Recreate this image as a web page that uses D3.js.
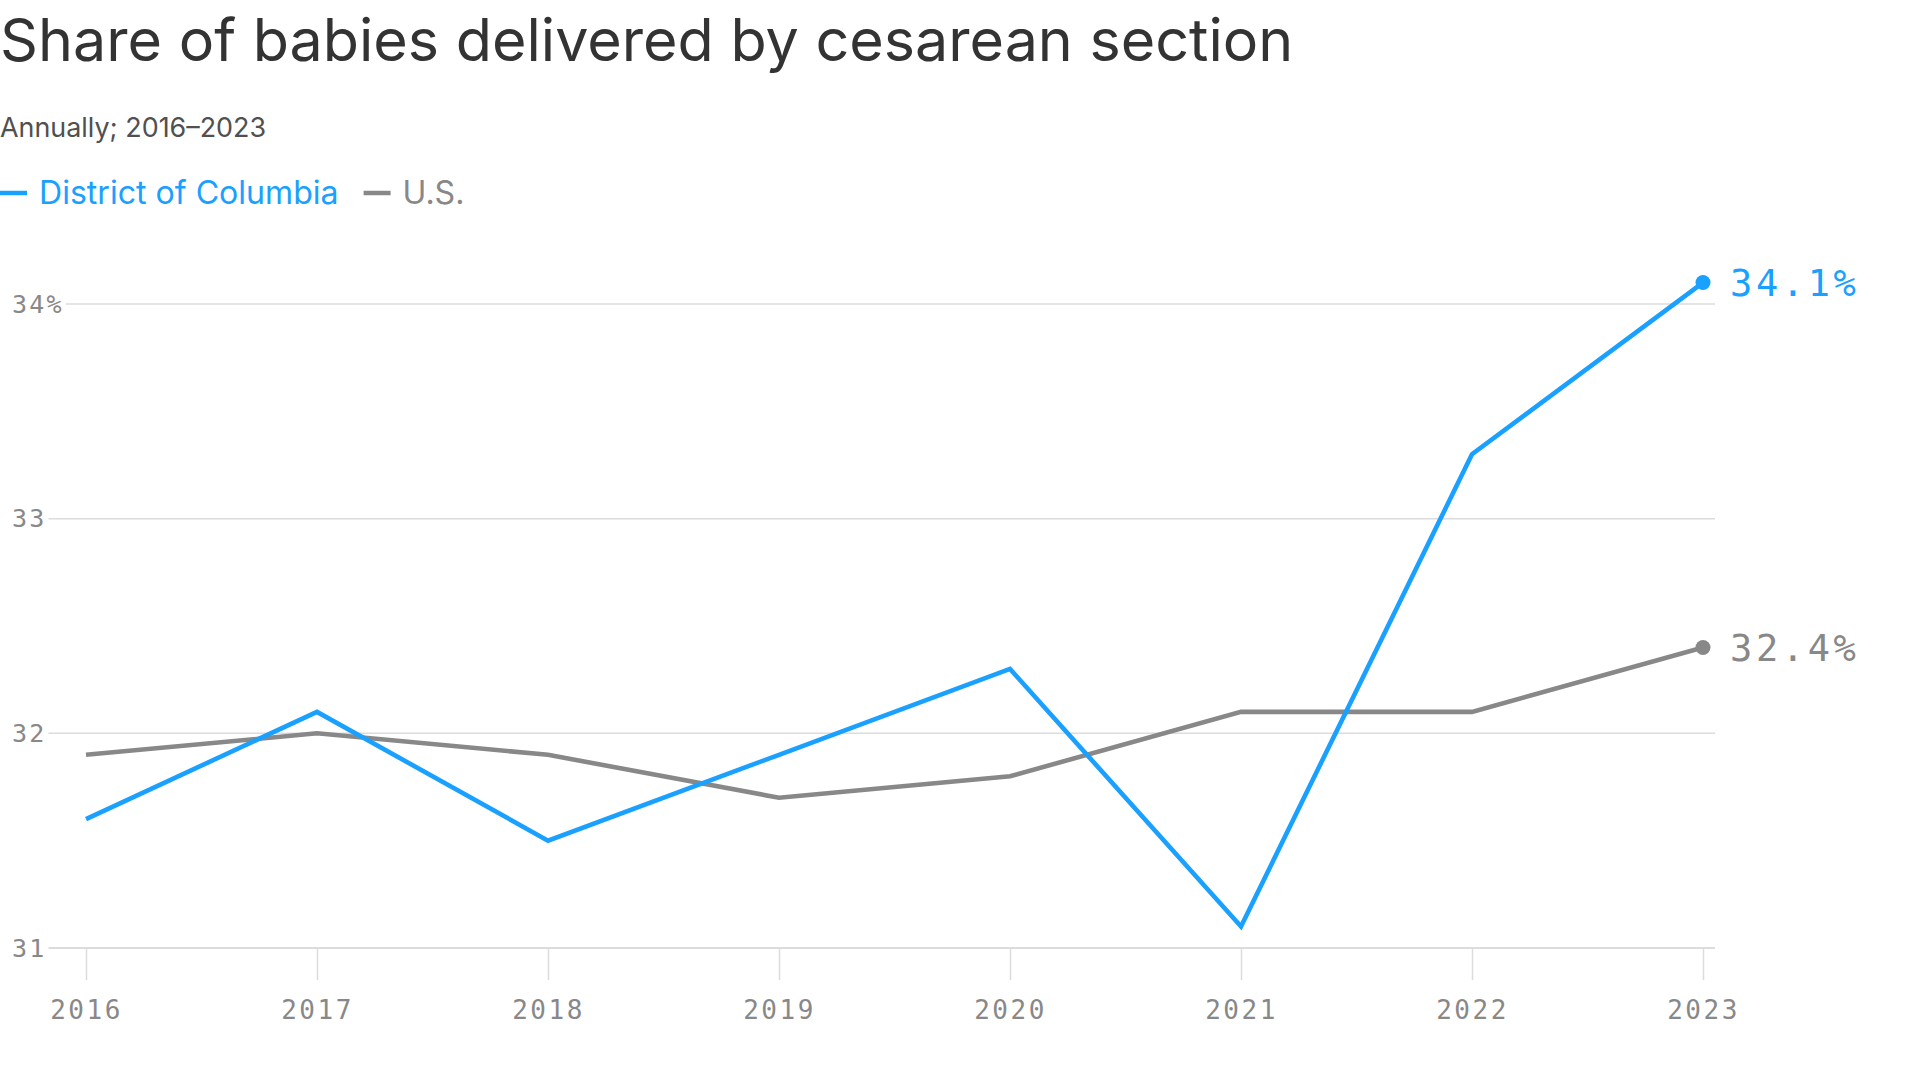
<!DOCTYPE html>
<html>
<head>
<meta charset="utf-8">
<script src="https://cdn.jsdelivr.net/npm/d3@7"></script>
<style>
	body { margin: 0; background: #fff; }
	svg { display: block; }
</style>
</head>
<body>
<div id="container"></div>
<script>
// 1. Access the data
const years = [2016, 2017, 2018, 2019, 2020, 2021, 2022, 2023]
const dcValues = [31.6, 32.1, 31.5, 31.9, 32.3, 31.1, 33.3, 34.1]
const usValues = [31.9, 32.0, 31.9, 31.7, 31.8, 32.1, 32.1, 32.4]
const yTicks = [31, 32, 33, 34]
const seriesNames = ["District of Columbia", "U.S."]
const seriesColors = ["#1aa0ff", "#888888"]

const series = [
	{ name: seriesNames[0], color: seriesColors[0], values: dcValues },
	{ name: seriesNames[1], color: seriesColors[1], values: usValues },
]

// 2. Create chart dimensions
const width = 1920
const height = 1080
const margin = { top: 304, right: 217, bottom: 132, left: 86 }

// 3. Draw canvas
const svg = d3.select("#container")
	.append("svg")
	.attr("width", width)
	.attr("height", height)

const sans = "Inter, 'Noto Sans', sans-serif"
const mono = "'DejaVu Sans Mono', monospace"

// 4. Create scales
const xScale = d3.scaleLinear()
	.domain(d3.extent(years))
	.range([margin.left, width - margin.right])

const yScale = d3.scaleLinear()
	.domain([31, 34])
	.range([height - margin.bottom, margin.top])

// 6. Peripherals first (grid under lines)

// Title + subtitle
svg.append("text")
	.attr("x", 0)
	.attr("y", 61)
	.attr("font-family", sans)
	.attr("font-size", 59.2)
	.attr("fill", "#333")
	.text("Share of babies delivered by cesarean section")

svg.append("text")
	.attr("x", 0)
	.attr("y", 137)
	.attr("font-family", sans)
	.attr("font-size", 26.9)
	.attr("fill", "#505050")
	.text("Annually; 2016–2023")

// Legend
const legend = svg.append("g")
	.attr("transform", "translate(0, 193)")

let legendX = 0
series.forEach(s => {
	const item = legend.append("g")
		.attr("transform", `translate(${legendX}, 0)`)
	item.append("line")
		.attr("x1", 0)
		.attr("x2", 27)
		.attr("stroke", s.color)
		.attr("stroke-width", 4.5)
	const label = item.append("text")
		.attr("x", 39)
		.attr("y", 11)
		.attr("font-family", sans)
		.attr("font-size", 32.1)
		.attr("fill", s.color)
		.text(s.name)
	legendX += 39 + label.node().getComputedTextLength() + 25
})

// Y grid + labels
const yAxis = svg.append("g")
yTicks.forEach(t => {
	const label = yAxis.append("text")
		.attr("x", 12)
		.attr("y", yScale(t))
		.attr("dy", "0.35em")
		.attr("font-family", mono)
		.attr("font-size", 25)
		.attr("letter-spacing", 2.2)
		.attr("fill", "#888")
		.text(t === 34 ? `${t}%` : t)
	const end = 12 + label.node().getComputedTextLength() + 2
	yAxis.append("line")
		.attr("x1", end)
		.attr("x2", width - margin.right + 12)
		.attr("y1", yScale(t))
		.attr("y2", yScale(t))
		.attr("stroke", "#dcdcdc")
		.attr("stroke-width", t === 31 ? 2 : 1.5)
})

// X axis
const xAxis = svg.append("g")
	.attr("transform", `translate(0, ${yScale(31)})`)
	.call(d3.axisBottom(xScale)
		.tickValues(years)
		.tickFormat(d3.format("d"))
		.tickSize(32)
		.tickPadding(21))

xAxis.select(".domain").remove()
xAxis.selectAll(".tick line")
	.attr("stroke", "#dcdcdc")
	.attr("stroke-width", 1.5)
xAxis.selectAll(".tick text")
	.attr("font-family", mono)
	.attr("font-size", 26)
	.attr("letter-spacing", 2.5)
	.attr("fill", "#888")

// 5. Draw data
const line = d3.line()
	.x((d, i) => xScale(years[i]))
	.y(d => yScale(d))

const lines = svg.append("g")

series.slice().reverse().forEach(s => {
	lines.append("path")
		.datum(s.values)
		.attr("d", line)
		.attr("fill", "none")
		.attr("stroke", s.color)
		.attr("stroke-width", 4.6)
		.attr("stroke-linejoin", "miter")

	const last = s.values[s.values.length - 1]
	lines.append("circle")
		.attr("cx", xScale(years[years.length - 1]))
		.attr("cy", yScale(last))
		.attr("r", 7.5)
		.attr("fill", s.color)

	lines.append("text")
		.attr("x", xScale(years[years.length - 1]) + 27)
		.attr("y", yScale(last))
		.attr("dy", "0.36em")
		.attr("font-family", mono)
		.attr("font-size", 37)
		.attr("letter-spacing", 3.6)
		.attr("fill", s.color)
		.text(`${d3.format(".1f")(last)}%`)
})
</script>
</body>
</html>
